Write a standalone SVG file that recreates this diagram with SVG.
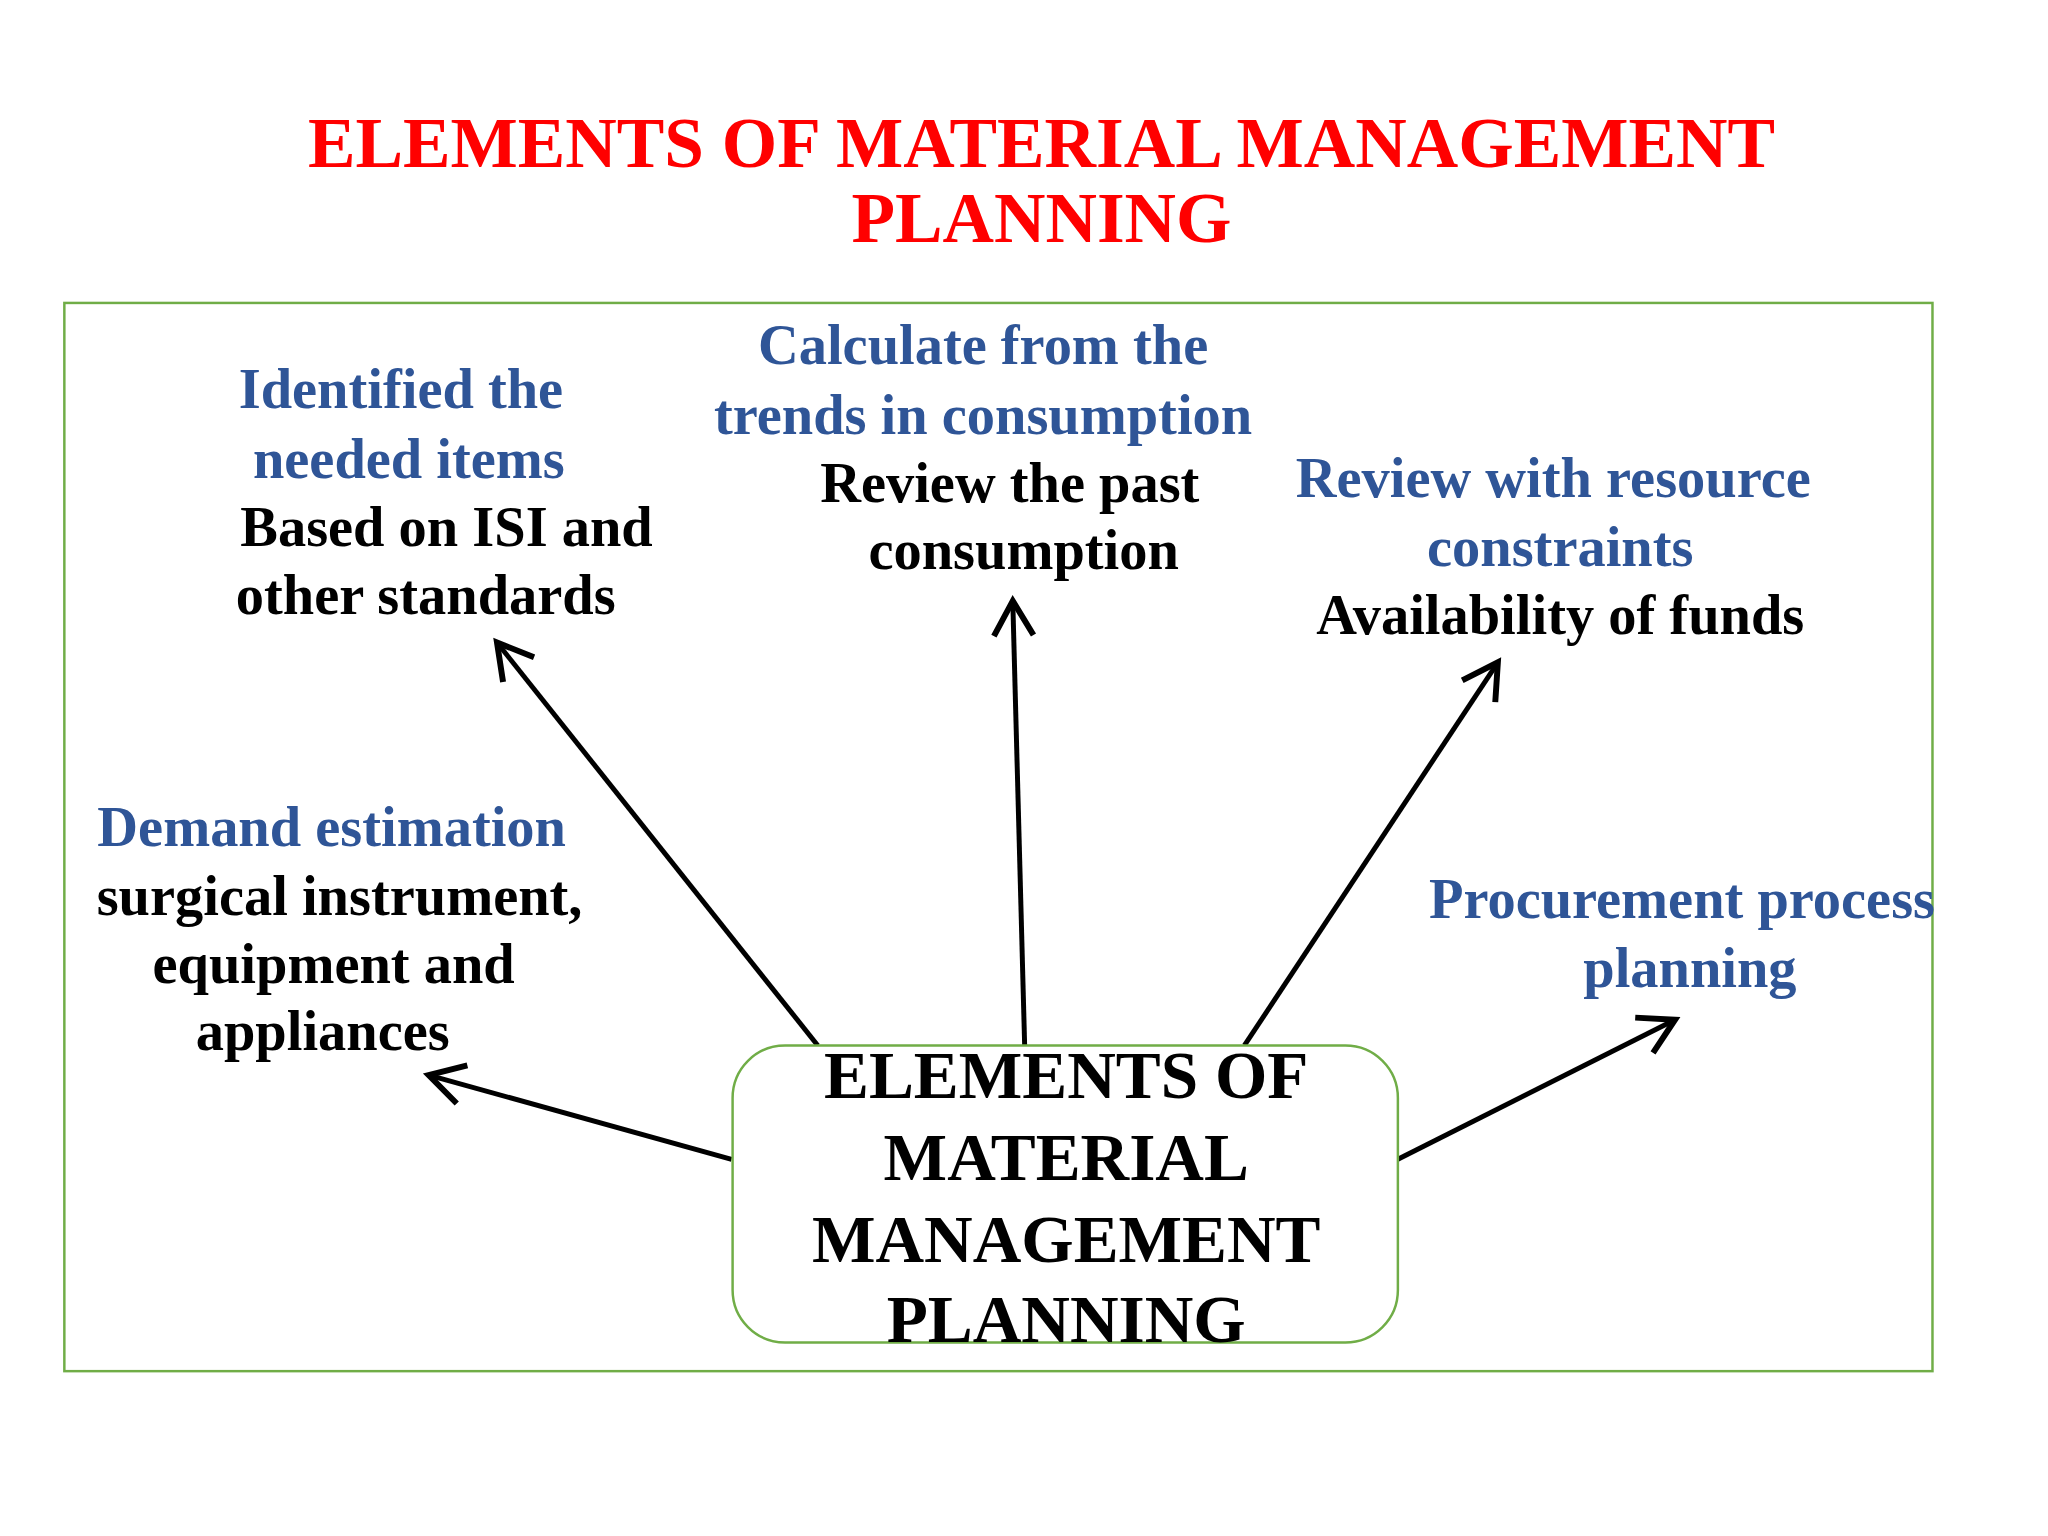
<svg xmlns="http://www.w3.org/2000/svg" width="2048" height="1536" viewBox="0 0 2048 1536">
<style>
text{font-family:"Liberation Serif","Times New Roman",serif;font-weight:bold;text-anchor:middle}
.t{fill:#ff0000;font-size:72px}
.b{fill:#2f5597;font-size:57px}
.k{fill:#000;font-size:57px}
.c{fill:#000;font-size:68px}
.a{stroke:#000;stroke-width:5;fill:none;marker-end:url(#ah)}
</style>
<defs>
<marker id="ah" markerWidth="10" markerHeight="10" refX="8" refY="5" orient="auto" markerUnits="strokeWidth">
<path d="M1,1 L8,5 L1,9" fill="none" stroke="#000" stroke-width="1.2"/>
</marker>
</defs>
<rect width="2048" height="1536" fill="#fff"/>
<g transform="scale(0.99)">
<g id="title">
<text class="t" x="1052" y="169">ELEMENTS OF MATERIAL MANAGEMENT</text>
<text class="t" x="1052" y="244">PLANNING</text>
</g>
<rect id="frame" x="65" y="306" width="1887" height="1079" fill="none" stroke="#70ad47" stroke-width="2.5"/>
<g id="connectors">
<line class="a" x1="826" y1="1056" x2="502" y2="649"/>
<line class="a" x1="1035" y1="1056" x2="1023" y2="607"/>
<line class="a" x1="1257" y1="1056" x2="1513" y2="669"/>
<line class="a" x1="739" y1="1171" x2="433" y2="1086"/>
<line class="a" x1="1412" y1="1171" x2="1692" y2="1030"/>
</g>
<g id="center">
<rect x="740" y="1056" width="672" height="300" rx="53" fill="#fff" stroke="#70ad47" stroke-width="2.5"/>
<text class="c" x="1077" y="1109">ELEMENTS OF</text>
<text class="c" x="1077" y="1192">MATERIAL</text>
<text class="c" x="1077" y="1275">MANAGEMENT</text>
<text class="c" x="1077" y="1356">PLANNING</text>
</g>
<g id="identified">
<text class="b" x="405" y="412">Identified the</text>
<text class="b" x="413" y="483">needed items</text>
<text class="k" x="451" y="552">Based on ISI and</text>
<text class="k" x="430" y="620">other standards</text>
</g>
<g id="calculate">
<text class="b" x="993" y="368">Calculate from the</text>
<text class="b" x="993" y="438">trends in consumption</text>
<text class="k" x="1020" y="507">Review the past</text>
<text class="k" x="1034" y="575">consumption</text>
</g>
<g id="review">
<text class="b" x="1569" y="502">Review with resource</text>
<text class="b" x="1576" y="572">constraints</text>
<text class="k" x="1576" y="640">Availability of funds</text>
</g>
<g id="demand">
<text class="b" x="335" y="855">Demand estimation</text>
<text class="k" x="343" y="924">surgical instrument,</text>
<text class="k" x="337" y="993">equipment and</text>
<text class="k" x="326" y="1061">appliances</text>
</g>
<g id="procurement">
<text class="b" x="1699" y="927">Procurement process</text>
<text class="b" x="1707" y="997">planning</text>
</g>
</g>
</svg>
